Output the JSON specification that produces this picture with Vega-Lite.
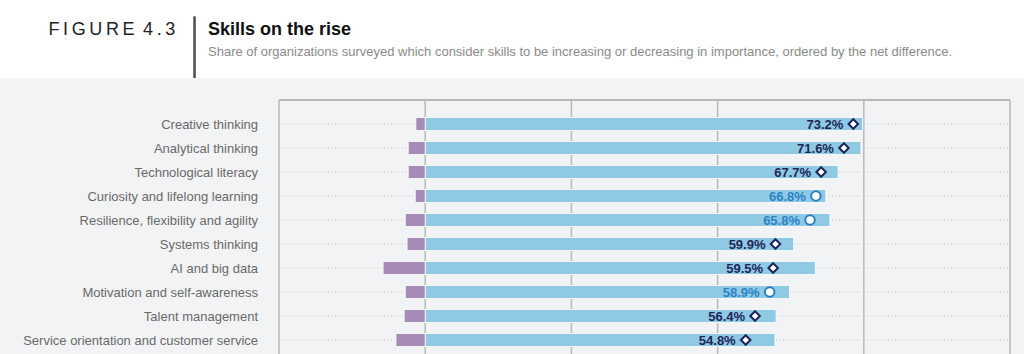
{
  "$schema": "https://vega.github.io/schema/vega-lite/v6.json",
  "width": 1024,
  "height": 276,
  "autosize": {"type": "none"},
  "padding": {"top": 78, "left": 0, "right": 0, "bottom": 0},
  "background": "white",
  "config": {
    "font": "Liberation Sans",
    "view": {"fill": "#f2f3f5", "stroke": null}
  },
  "title": {
    "text": "Skills on the rise",
    "subtitle": "Share of organizations surveyed which consider skills to be increasing or decreasing in importance, ordered by the net difference.",
    "anchor": "start",
    "frame": "group",
    "dx": 208,
    "offset": -43,
    "fontSize": 18,
    "fontWeight": "bold",
    "color": "#111111",
    "subtitleFontSize": 13,
    "subtitleColor": "#8a8a8a",
    "subtitlePadding": 7.5
  },
  "datasets": {
    "skills": [
      {"rank": 1, "skill": "Creative thinking", "increasing": 0.748, "decreasing": -0.016, "net": 0.732, "type": "diamond"},
      {"rank": 2, "skill": "Analytical thinking", "increasing": 0.745, "decreasing": -0.029, "net": 0.716, "type": "diamond"},
      {"rank": 3, "skill": "Technological literacy", "increasing": 0.706, "decreasing": -0.029, "net": 0.677, "type": "diamond"},
      {"rank": 4, "skill": "Curiosity and lifelong learning", "increasing": 0.685, "decreasing": -0.017, "net": 0.668, "type": "circle"},
      {"rank": 5, "skill": "Resilience, flexibility and agility", "increasing": 0.692, "decreasing": -0.034, "net": 0.658, "type": "circle"},
      {"rank": 6, "skill": "Systems thinking", "increasing": 0.630, "decreasing": -0.031, "net": 0.599, "type": "diamond"},
      {"rank": 7, "skill": "AI and big data", "increasing": 0.667, "decreasing": -0.072, "net": 0.595, "type": "diamond"},
      {"rank": 8, "skill": "Motivation and self-awareness", "increasing": 0.623, "decreasing": -0.034, "net": 0.589, "type": "circle"},
      {"rank": 9, "skill": "Talent management", "increasing": 0.600, "decreasing": -0.036, "net": 0.564, "type": "diamond"},
      {"rank": 10, "skill": "Service orientation and customer service", "increasing": 0.598, "decreasing": -0.050, "net": 0.548, "type": "diamond"}
    ],
    "grid": [
      {"g": -0.25}, {"g": 0}, {"g": 0.25}, {"g": 0.5}, {"g": 0.75}, {"g": 1.0}
    ]
  },
  "data": {"name": "skills"},
  "layer": [
    {
      "data": {"name": "grid"},
      "mark": {"type": "rule", "color": "#b9b9b9", "strokeWidth": 1.5},
      "encoding": {
        "x": {"field": "g", "type": "quantitative", "axis": null,
              "scale": {"domain": [-0.7271, 1.0239], "nice": false, "zero": false, "padding": 0}},
        "y": {"datum": 0, "type": "quantitative",
              "scale": {"domain": [-0.9167, 10.5833], "reverse": true, "nice": false, "zero": false, "padding": 0},
              "axis": {"title": "F\u2009I\u2009G\u2009U\u2009R\u2009E\u2009 4\u2009.\u20093", "titleAngle": 0, "titleX": 48, "titleY": -44,
                       "titleAlign": "left", "titleBaseline": "alphabetic", "titleFontSize": 18,
                       "titleFontWeight": "normal", "titleColor": "#222222", "labels": false,
                       "ticks": false, "domain": false, "grid": false}},
        "y2": {"datum": 11}
      }
    },
    {
      "mark": {"type": "rule", "color": "#b9b9b9", "strokeWidth": 1.5},
      "encoding": {
        "x": {"datum": -0.25, "axis": null},
        "x2": {"datum": 1.0},
        "y": {"datum": 0, "type": "quantitative"}
      }
    },
    {
      "mark": {"type": "rule", "color": "#555555", "strokeWidth": 1.3},
      "encoding": {
        "x": {"datum": -0.3945, "axis": null},
        "y": {"datum": -3.47, "type": "quantitative"},
        "y2": {"datum": -0.9167}
      }
    },
    {
      "mark": {"type": "rule", "color": "#c4c4c4", "strokeWidth": 1, "strokeDash": [1, 2.5]},
      "encoding": {
        "x": {"datum": -0.25, "axis": null},
        "x2": {"datum": 1.0},
        "y": {"field": "rank", "type": "quantitative"}
      }
    },
    {
      "mark": {"type": "bar", "color": "#8fc9e3", "height": 13, "stroke": "#ffffff", "strokeWidth": 0.8},
      "encoding": {
        "x": {"field": "increasing", "type": "quantitative", "axis": null},
        "x2": {"datum": 0},
        "y": {"field": "rank", "type": "quantitative"}
      }
    },
    {
      "mark": {"type": "bar", "color": "#a58bb6", "height": 13, "stroke": "#ffffff", "strokeWidth": 0.8},
      "encoding": {
        "x": {"field": "decreasing", "type": "quantitative", "axis": null},
        "x2": {"datum": 0},
        "y": {"field": "rank", "type": "quantitative"}
      }
    },
    {
      "mark": {"type": "point", "filled": true, "fill": "#ffffff", "size": 90, "strokeWidth": 2, "opacity": 1},
      "encoding": {
        "x": {"field": "net", "type": "quantitative", "axis": null},
        "y": {"field": "rank", "type": "quantitative"},
        "shape": {"field": "type", "type": "nominal", "scale": {"domain": ["diamond", "circle"], "range": ["diamond", "circle"]}, "legend": null},
        "stroke": {"field": "type", "type": "nominal", "scale": {"domain": ["diamond", "circle"], "range": ["#1c2557", "#2a7fc1"]}, "legend": null}
      }
    },
    {
      "transform": [{"filter": "datum.type === 'diamond'"}],
      "mark": {"type": "text", "align": "right", "baseline": "middle", "dx": -10, "dy": 1, "fontSize": 13, "fontWeight": "bold", "color": "#1d2758"},
      "encoding": {
        "x": {"field": "net", "type": "quantitative", "axis": null},
        "y": {"field": "rank", "type": "quantitative"},
        "text": {"field": "net", "type": "quantitative", "format": ".1%"}
      }
    },
    {
      "transform": [{"filter": "datum.type === 'circle'"}],
      "mark": {"type": "text", "align": "right", "baseline": "middle", "dx": -10, "dy": 1, "fontSize": 13, "fontWeight": "bold", "color": "#2b84c4"},
      "encoding": {
        "x": {"field": "net", "type": "quantitative", "axis": null},
        "y": {"field": "rank", "type": "quantitative"},
        "text": {"field": "net", "type": "quantitative", "format": ".1%"}
      }
    },
    {
      "mark": {"type": "text", "align": "right", "baseline": "middle", "dx": -21, "dy": 1, "fontSize": 13, "color": "#6a6a6a"},
      "encoding": {
        "x": {"datum": -0.25, "axis": null},
        "y": {"field": "rank", "type": "quantitative"},
        "text": {"field": "skill", "type": "nominal"}
      }
    }
  ]
}
